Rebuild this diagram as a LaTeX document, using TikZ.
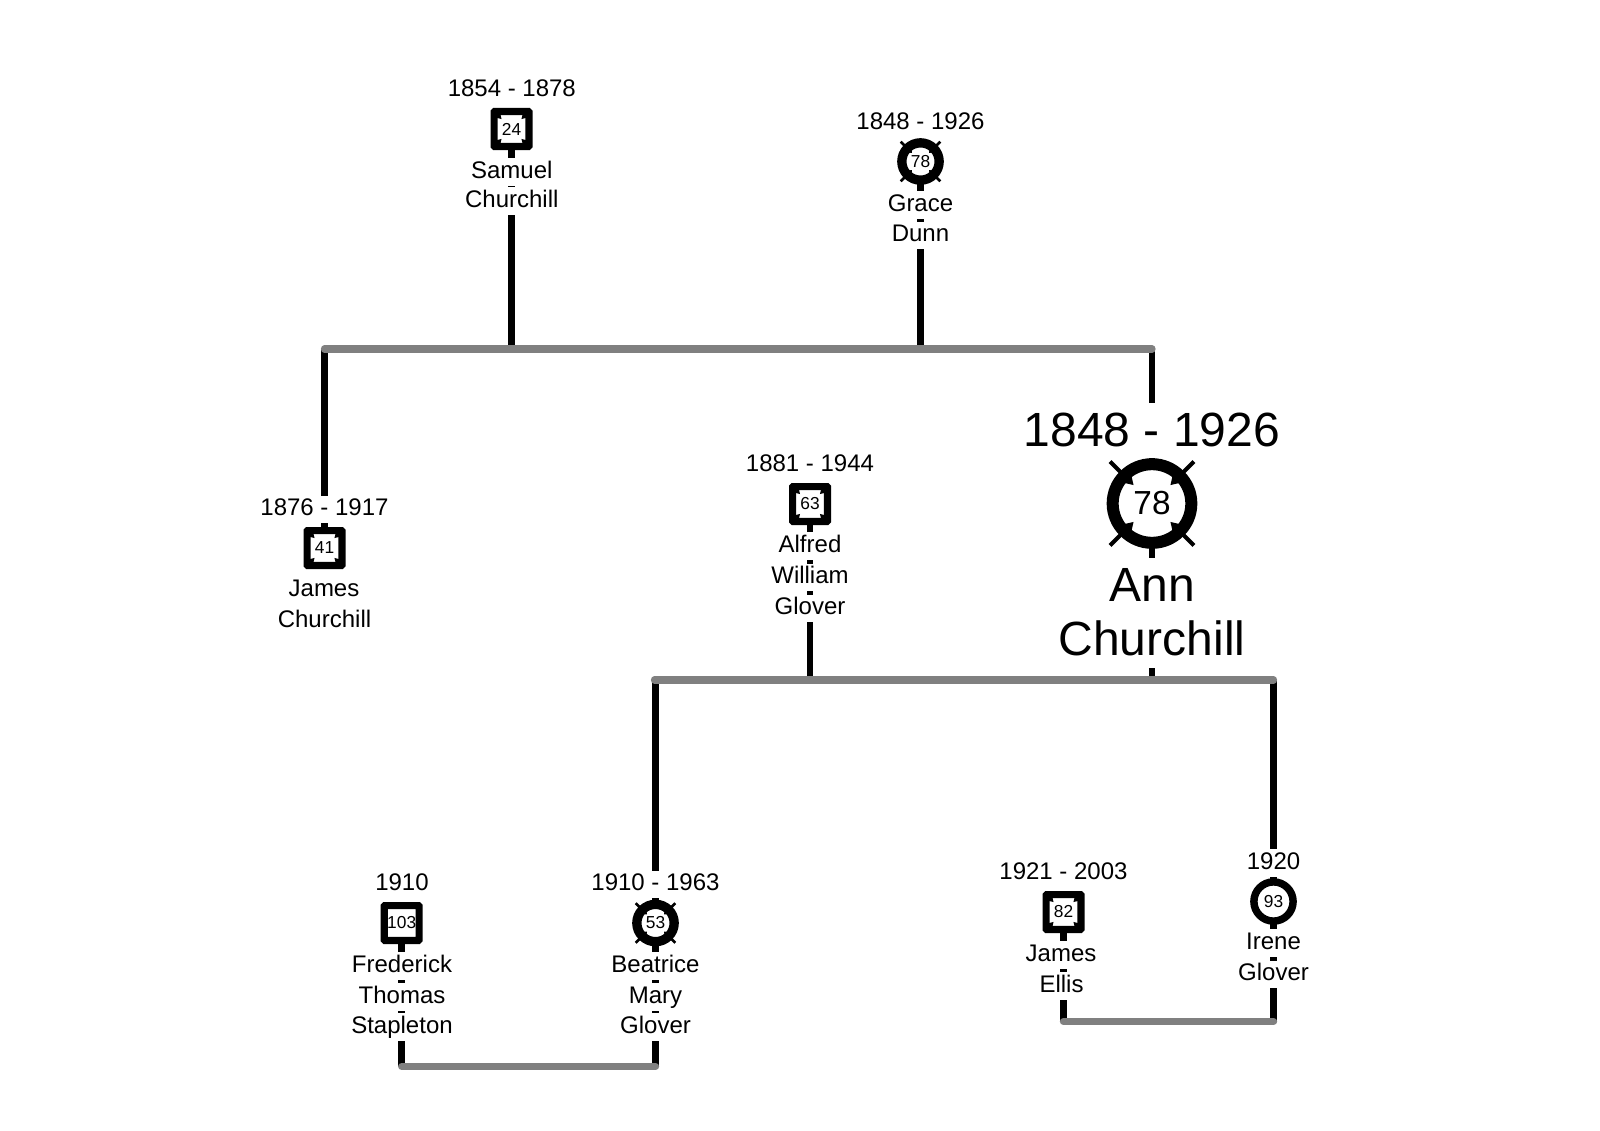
\documentclass[tikz,border=0pt]{standalone}
\usepackage{fontspec}
\setmainfont{Liberation Sans}
\usetikzlibrary{backgrounds,arrows.meta}
\newcommand{\pxu}{pt*0.75}
\definecolor{barGrey}{gray}{0.5}
\tikzset{
  x=0.75pt, y=-0.75pt,
  link/.style={line width=5pt, black},
  bar/.style={line width=5.5pt, color=barGrey, line cap=round},
  lab/.style={fill=white, inner sep=0pt, anchor=base, text height=19.8\pxu, text depth=7.7\pxu, font=\fontsize{18pt}{18pt}\selectfont},
  bigLab/.style={fill=white, inner sep=0pt, anchor=base, text height=43\pxu, text depth=12\pxu, font=\fontsize{36pt}{36pt}\selectfont},
  malebox/.style={draw, rectangle, line width=5.3pt, rounded corners=0.5pt, fill=white, minimum size=26.2pt, inner sep=0pt, font=\fontsize{13pt}{13pt}\selectfont},
  femring/.style={draw, circle, line width=5.6pt, fill=white, minimum size=29.4pt, inner sep=0pt, font=\fontsize{13pt}{13pt}\selectfont},
  femdead/.style={draw, circle, line width=7pt, fill=white, minimum size=28pt, inner sep=0pt, font=\fontsize{13pt}{13pt}\selectfont},
  bigring/.style={draw, circle, line width=9pt, fill=white, minimum size=59pt, inner sep=0pt, font=\fontsize{25pt}{25pt}\selectfont},
  boxtick/.style={line width=1.2pt, {Triangle[length=4pt,width=4.5pt]}-},
  tick/.style={line width=2pt, {Triangle[length=3.5pt,width=5pt]}-},
  bigtick/.style={line width=3pt, {Triangle[length=6pt,width=7pt]}-},
  boxcross/.style={append after command={
    \foreach \a in {45,135,225,315}{
      (\tikzlastnode.center) ++(\a:10.5pt) edge[boxtick] ++(\a:8pt)
    }}},
  ringcross/.style={append after command={
    \foreach \a in {45,135,225,315}{
      (\tikzlastnode.center) ++(\a:9pt) edge[tick] ++(\a:12pt)
    }}},
  bigcross/.style={append after command={
    \foreach \a in {45,135,225,315}{
      (\tikzlastnode.center) ++(\a:19.5pt) edge[bigtick] ++(\a:25pt)
    }}},
}
\begin{document}
\begin{tikzpicture}
\useasboundingbox (0,0) rectangle (1600,1131);
% bars
\coordinate (f1l) at (324.5,349); \coordinate (f1r) at (1152,349);
\coordinate (f2l) at (654.5,680); \coordinate (f2r) at (1273.5,680);
\coordinate (f3l) at (401.7,1066.5);  \coordinate (f3r) at (655.5,1066.5);
\coordinate (f4l) at (1063.5,1021.5); \coordinate (f4r) at (1273.5,1021.5);
% Samuel Churchill
\node[malebox,boxcross] (samuel) at (511.5,129) {24};
\node[lab] (samuelY) at (511.8,97) {1854 - 1878};
\node[lab] (samuelA) at (511.8,178) {Samuel};
\node[lab] (samuelB) at (511.8,207) {Churchill};
% Grace Dunn
\node[femdead,ringcross] (grace) at (920.5,161.5) {78};
\node[lab] (graceY) at (920.5,129) {1848 - 1926};
\node[lab] (graceA) at (920.5,211) {Grace};
\node[lab] (graceB) at (920.5,241.5) {Dunn};
% James Churchill
\node[malebox,boxcross] (jamesc) at (324.5,548) {41};
\node[lab] (jamescY) at (324.5,515.5) {1876 - 1917};
\node[lab] (jamescA) at (324,596.5) {James};
\node[lab] (jamescB) at (324.5,627.5) {Churchill};
% Alfred William Glover
\node[malebox,boxcross] (alfred) at (810,504) {63};
\node[lab] (alfredY) at (810,471.5) {1881 - 1944};
\node[lab] (alfredA) at (810,552) {Alfred};
\node[lab] (alfredB) at (810,583.5) {William};
\node[lab] (alfredC) at (810,614.5) {Glover};
% Ann Churchill
\node[bigring,bigcross] (ann) at (1152,503.5) {78};
\node[bigLab] (annY) at (1152,446) {1848 - 1926};
\node[bigLab] (annA) at (1152,601) {Ann};
\node[bigLab] (annB) at (1152,655.5) {Churchill};
% Frederick Thomas Stapleton
\node[malebox] (fred) at (401.7,923) {103};
\node[lab] (fredY) at (402,890.5) {1910};
\node[lab] (fredA) at (402,972) {Frederick};
\node[lab] (fredB) at (402,1003) {Thomas};
\node[lab] (fredC) at (402,1033) {Stapleton};
% Beatrice Mary Glover
\node[femdead,ringcross] (bea) at (655.5,923) {53};
\node[lab] (beaY) at (655.5,890.5) {1910 - 1963};
\node[lab] (beaA) at (655.5,972) {Beatrice};
\node[lab] (beaB) at (655.5,1003) {Mary};
\node[lab] (beaC) at (655.5,1033) {Glover};
% James Ellis
\node[malebox,boxcross] (ellis) at (1063.5,912) {82};
\node[lab] (ellisY) at (1063.5,879.5) {1921 - 2003};
\node[lab] (ellisA) at (1061,961) {James};
\node[lab] (ellisB) at (1061.5,992) {Ellis};
% Irene Glover
\node[femring] (irene) at (1273.5,901.5) {93};
\node[lab] (ireneY) at (1273.5,869) {1920};
\node[lab] (ireneA) at (1273.5,949) {Irene};
\node[lab] (ireneB) at (1273.5,980.5) {Glover};
\begin{pgfonlayer}{background}
  \draw[link] (samuel.center) -- ([yshift=-3.2pt]samuel |- f1l);
  \draw[link] (grace.center) -- ([yshift=-3.2pt]grace |- f1l);
  \draw[link] (jamesc.center) -- (jamesc |- f1l);
  \draw[link] (ann.center) -- (ann |- f1l);
  \draw[link] (ann.center) -- ([yshift=-3.2pt]ann |- f2l);
  \draw[link] (alfred.center) -- ([yshift=-3.2pt]alfred |- f2l);
  \draw[link] (bea.center) -- (bea |- f2l);
  \draw[link] (irene.center) -- (irene |- f2l);
  \draw[link] (fred.center) -- (fred |- f3l);
  \draw[link] (bea.center) -- (bea |- f3l);
  \draw[link] (ellis.center) -- (ellis |- f4l);
  \draw[link] (irene.center) -- (irene |- f4l);
  \draw[bar] (f1l) -- (f1r);
  \draw[bar] (f2l) -- (f2r);
  \draw[bar] (f3l) -- (f3r);
  \draw[bar] (f4l) -- (f4r);
\end{pgfonlayer}
\end{tikzpicture}
\end{document}
